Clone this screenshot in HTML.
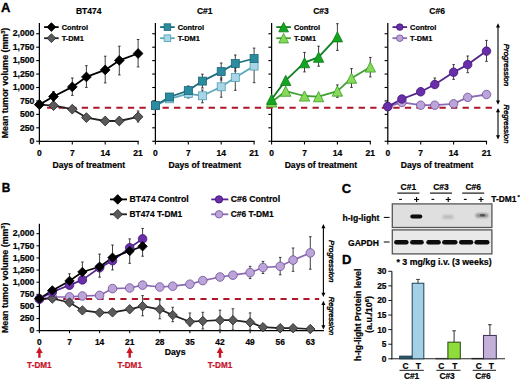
<!DOCTYPE html>
<html><head><meta charset="utf-8"><style>
html,body{margin:0;padding:0;background:#fff;width:520px;height:381px;overflow:hidden;position:relative}
text{font-family:"Liberation Sans", sans-serif}
</style></head><body>
<svg width="520" height="381" viewBox="0 0 520 381" style="position:absolute;left:0;top:0">
<g font-family='"Liberation Sans", sans-serif'>
<text x="0.90" y="11.70" font-size="13" text-anchor="start" font-weight="bold" fill="#000" stroke="#000" stroke-width="0.35"  style="">A</text>
<text x="1.70" y="192.20" font-size="13" text-anchor="start" font-weight="bold" fill="#000" stroke="#000" stroke-width="0.35" textLength="8.6" lengthAdjust="spacingAndGlyphs"  style="">B</text>
<text x="341.70" y="193.00" font-size="13" text-anchor="start" font-weight="bold" fill="#000" stroke="#000" stroke-width="0.35"  style="">C</text>
<text x="341.90" y="264.30" font-size="13" text-anchor="start" font-weight="bold" fill="#000" stroke="#000" stroke-width="0.35"  style="">D</text>
<text x="88.75" y="14.40" font-size="8.5" text-anchor="middle" font-weight="bold" fill="#000" stroke="#000" stroke-width="0.2"  style="">BT474</text>
<line x1="39.40" y1="23.00" x2="39.40" y2="141.85" stroke="#000" stroke-width="1.25" />
<line x1="38.80" y1="141.25" x2="138.70" y2="141.25" stroke="#000" stroke-width="1.25" />
<line x1="36.20" y1="141.25" x2="39.40" y2="141.25" stroke="#000" stroke-width="1.1" />
<line x1="36.20" y1="127.81" x2="39.40" y2="127.81" stroke="#000" stroke-width="1.1" />
<line x1="36.20" y1="114.38" x2="39.40" y2="114.38" stroke="#000" stroke-width="1.1" />
<line x1="36.20" y1="100.94" x2="39.40" y2="100.94" stroke="#000" stroke-width="1.1" />
<line x1="36.20" y1="87.50" x2="39.40" y2="87.50" stroke="#000" stroke-width="1.1" />
<line x1="36.20" y1="74.06" x2="39.40" y2="74.06" stroke="#000" stroke-width="1.1" />
<line x1="36.20" y1="60.62" x2="39.40" y2="60.62" stroke="#000" stroke-width="1.1" />
<line x1="36.20" y1="47.19" x2="39.40" y2="47.19" stroke="#000" stroke-width="1.1" />
<line x1="36.20" y1="33.75" x2="39.40" y2="33.75" stroke="#000" stroke-width="1.1" />
<line x1="39.40" y1="141.25" x2="39.40" y2="144.45" stroke="#000" stroke-width="1.1" />
<text x="39.40" y="155.60" font-size="8.5" text-anchor="middle" font-weight="bold" fill="#000" stroke="#000" stroke-width="0.2"  style="">0</text>
<line x1="72.30" y1="141.25" x2="72.30" y2="144.45" stroke="#000" stroke-width="1.1" />
<text x="72.30" y="155.60" font-size="8.5" text-anchor="middle" font-weight="bold" fill="#000" stroke="#000" stroke-width="0.2"  style="">7</text>
<line x1="105.20" y1="141.25" x2="105.20" y2="144.45" stroke="#000" stroke-width="1.1" />
<text x="105.20" y="155.60" font-size="8.5" text-anchor="middle" font-weight="bold" fill="#000" stroke="#000" stroke-width="0.2"  style="">14</text>
<line x1="138.10" y1="141.25" x2="138.10" y2="144.45" stroke="#000" stroke-width="1.1" />
<text x="138.10" y="155.60" font-size="8.5" text-anchor="middle" font-weight="bold" fill="#000" stroke="#000" stroke-width="0.2"  style="">21</text>
<text x="88.75" y="167.60" font-size="8.6" text-anchor="middle" font-weight="bold" fill="#000" stroke="#000" stroke-width="0.2"  style="">Days of treatment</text>
<text x="204.75" y="14.40" font-size="8.5" text-anchor="middle" font-weight="bold" fill="#000" stroke="#000" stroke-width="0.2"  style="">C#1</text>
<line x1="155.40" y1="23.00" x2="155.40" y2="141.85" stroke="#000" stroke-width="1.25" />
<line x1="154.80" y1="141.25" x2="254.70" y2="141.25" stroke="#000" stroke-width="1.25" />
<line x1="152.20" y1="141.25" x2="155.40" y2="141.25" stroke="#000" stroke-width="1.1" />
<line x1="152.20" y1="127.81" x2="155.40" y2="127.81" stroke="#000" stroke-width="1.1" />
<line x1="152.20" y1="114.38" x2="155.40" y2="114.38" stroke="#000" stroke-width="1.1" />
<line x1="152.20" y1="100.94" x2="155.40" y2="100.94" stroke="#000" stroke-width="1.1" />
<line x1="152.20" y1="87.50" x2="155.40" y2="87.50" stroke="#000" stroke-width="1.1" />
<line x1="152.20" y1="74.06" x2="155.40" y2="74.06" stroke="#000" stroke-width="1.1" />
<line x1="152.20" y1="60.62" x2="155.40" y2="60.62" stroke="#000" stroke-width="1.1" />
<line x1="152.20" y1="47.19" x2="155.40" y2="47.19" stroke="#000" stroke-width="1.1" />
<line x1="152.20" y1="33.75" x2="155.40" y2="33.75" stroke="#000" stroke-width="1.1" />
<line x1="155.40" y1="141.25" x2="155.40" y2="144.45" stroke="#000" stroke-width="1.1" />
<text x="155.40" y="155.60" font-size="8.5" text-anchor="middle" font-weight="bold" fill="#000" stroke="#000" stroke-width="0.2"  style="">0</text>
<line x1="188.30" y1="141.25" x2="188.30" y2="144.45" stroke="#000" stroke-width="1.1" />
<text x="188.30" y="155.60" font-size="8.5" text-anchor="middle" font-weight="bold" fill="#000" stroke="#000" stroke-width="0.2"  style="">7</text>
<line x1="221.20" y1="141.25" x2="221.20" y2="144.45" stroke="#000" stroke-width="1.1" />
<text x="221.20" y="155.60" font-size="8.5" text-anchor="middle" font-weight="bold" fill="#000" stroke="#000" stroke-width="0.2"  style="">14</text>
<line x1="254.10" y1="141.25" x2="254.10" y2="144.45" stroke="#000" stroke-width="1.1" />
<text x="254.10" y="155.60" font-size="8.5" text-anchor="middle" font-weight="bold" fill="#000" stroke="#000" stroke-width="0.2"  style="">21</text>
<text x="204.75" y="167.60" font-size="8.6" text-anchor="middle" font-weight="bold" fill="#000" stroke="#000" stroke-width="0.2"  style="">Days of treatment</text>
<text x="320.95" y="14.40" font-size="8.5" text-anchor="middle" font-weight="bold" fill="#000" stroke="#000" stroke-width="0.2"  style="">C#3</text>
<line x1="271.60" y1="23.00" x2="271.60" y2="141.85" stroke="#000" stroke-width="1.25" />
<line x1="271.00" y1="141.25" x2="370.90" y2="141.25" stroke="#000" stroke-width="1.25" />
<line x1="268.40" y1="141.25" x2="271.60" y2="141.25" stroke="#000" stroke-width="1.1" />
<line x1="268.40" y1="127.81" x2="271.60" y2="127.81" stroke="#000" stroke-width="1.1" />
<line x1="268.40" y1="114.38" x2="271.60" y2="114.38" stroke="#000" stroke-width="1.1" />
<line x1="268.40" y1="100.94" x2="271.60" y2="100.94" stroke="#000" stroke-width="1.1" />
<line x1="268.40" y1="87.50" x2="271.60" y2="87.50" stroke="#000" stroke-width="1.1" />
<line x1="268.40" y1="74.06" x2="271.60" y2="74.06" stroke="#000" stroke-width="1.1" />
<line x1="268.40" y1="60.62" x2="271.60" y2="60.62" stroke="#000" stroke-width="1.1" />
<line x1="268.40" y1="47.19" x2="271.60" y2="47.19" stroke="#000" stroke-width="1.1" />
<line x1="268.40" y1="33.75" x2="271.60" y2="33.75" stroke="#000" stroke-width="1.1" />
<line x1="271.60" y1="141.25" x2="271.60" y2="144.45" stroke="#000" stroke-width="1.1" />
<text x="271.60" y="155.60" font-size="8.5" text-anchor="middle" font-weight="bold" fill="#000" stroke="#000" stroke-width="0.2"  style="">0</text>
<line x1="304.50" y1="141.25" x2="304.50" y2="144.45" stroke="#000" stroke-width="1.1" />
<text x="304.50" y="155.60" font-size="8.5" text-anchor="middle" font-weight="bold" fill="#000" stroke="#000" stroke-width="0.2"  style="">7</text>
<line x1="337.40" y1="141.25" x2="337.40" y2="144.45" stroke="#000" stroke-width="1.1" />
<text x="337.40" y="155.60" font-size="8.5" text-anchor="middle" font-weight="bold" fill="#000" stroke="#000" stroke-width="0.2"  style="">14</text>
<line x1="370.30" y1="141.25" x2="370.30" y2="144.45" stroke="#000" stroke-width="1.1" />
<text x="370.30" y="155.60" font-size="8.5" text-anchor="middle" font-weight="bold" fill="#000" stroke="#000" stroke-width="0.2"  style="">21</text>
<text x="320.95" y="167.60" font-size="8.6" text-anchor="middle" font-weight="bold" fill="#000" stroke="#000" stroke-width="0.2"  style="">Days of treatment</text>
<text x="437.15" y="14.40" font-size="8.5" text-anchor="middle" font-weight="bold" fill="#000" stroke="#000" stroke-width="0.2"  style="">C#6</text>
<line x1="387.80" y1="23.00" x2="387.80" y2="141.85" stroke="#000" stroke-width="1.25" />
<line x1="387.20" y1="141.25" x2="487.10" y2="141.25" stroke="#000" stroke-width="1.25" />
<line x1="384.60" y1="141.25" x2="387.80" y2="141.25" stroke="#000" stroke-width="1.1" />
<line x1="384.60" y1="127.81" x2="387.80" y2="127.81" stroke="#000" stroke-width="1.1" />
<line x1="384.60" y1="114.38" x2="387.80" y2="114.38" stroke="#000" stroke-width="1.1" />
<line x1="384.60" y1="100.94" x2="387.80" y2="100.94" stroke="#000" stroke-width="1.1" />
<line x1="384.60" y1="87.50" x2="387.80" y2="87.50" stroke="#000" stroke-width="1.1" />
<line x1="384.60" y1="74.06" x2="387.80" y2="74.06" stroke="#000" stroke-width="1.1" />
<line x1="384.60" y1="60.62" x2="387.80" y2="60.62" stroke="#000" stroke-width="1.1" />
<line x1="384.60" y1="47.19" x2="387.80" y2="47.19" stroke="#000" stroke-width="1.1" />
<line x1="384.60" y1="33.75" x2="387.80" y2="33.75" stroke="#000" stroke-width="1.1" />
<line x1="387.80" y1="141.25" x2="387.80" y2="144.45" stroke="#000" stroke-width="1.1" />
<text x="387.80" y="155.60" font-size="8.5" text-anchor="middle" font-weight="bold" fill="#000" stroke="#000" stroke-width="0.2"  style="">0</text>
<line x1="420.70" y1="141.25" x2="420.70" y2="144.45" stroke="#000" stroke-width="1.1" />
<text x="420.70" y="155.60" font-size="8.5" text-anchor="middle" font-weight="bold" fill="#000" stroke="#000" stroke-width="0.2"  style="">7</text>
<line x1="453.60" y1="141.25" x2="453.60" y2="144.45" stroke="#000" stroke-width="1.1" />
<text x="453.60" y="155.60" font-size="8.5" text-anchor="middle" font-weight="bold" fill="#000" stroke="#000" stroke-width="0.2"  style="">14</text>
<line x1="486.50" y1="141.25" x2="486.50" y2="144.45" stroke="#000" stroke-width="1.1" />
<text x="486.50" y="155.60" font-size="8.5" text-anchor="middle" font-weight="bold" fill="#000" stroke="#000" stroke-width="0.2"  style="">21</text>
<text x="437.15" y="167.60" font-size="8.6" text-anchor="middle" font-weight="bold" fill="#000" stroke="#000" stroke-width="0.2"  style="">Days of treatment</text>
<text x="34.40" y="143.95" font-size="8.7" text-anchor="end" font-weight="bold" fill="#000" stroke="#000" stroke-width="0.2"  style="">0</text>
<text x="34.40" y="130.51" font-size="8.7" text-anchor="end" font-weight="bold" fill="#000" stroke="#000" stroke-width="0.2"  style="">250</text>
<text x="34.40" y="117.08" font-size="8.7" text-anchor="end" font-weight="bold" fill="#000" stroke="#000" stroke-width="0.2"  style="">500</text>
<text x="34.40" y="103.64" font-size="8.7" text-anchor="end" font-weight="bold" fill="#000" stroke="#000" stroke-width="0.2"  style="">750</text>
<text x="34.40" y="90.20" font-size="8.7" text-anchor="end" font-weight="bold" fill="#000" stroke="#000" stroke-width="0.2"  style="">1,000</text>
<text x="34.40" y="76.76" font-size="8.7" text-anchor="end" font-weight="bold" fill="#000" stroke="#000" stroke-width="0.2"  style="">1,250</text>
<text x="34.40" y="63.33" font-size="8.7" text-anchor="end" font-weight="bold" fill="#000" stroke="#000" stroke-width="0.2"  style="">1,500</text>
<text x="34.40" y="49.89" font-size="8.7" text-anchor="end" font-weight="bold" fill="#000" stroke="#000" stroke-width="0.2"  style="">1,750</text>
<text x="34.40" y="36.45" font-size="8.7" text-anchor="end" font-weight="bold" fill="#000" stroke="#000" stroke-width="0.2"  style="">2,000</text>
<text transform="translate(7.9,83.0) rotate(-90)" x="0" y="0" font-size="8.6" font-weight="bold" text-anchor="middle" stroke="#000" stroke-width="0.2" textLength="110.6" lengthAdjust="spacingAndGlyphs">Mean tumor volume (mm<tspan font-size="5.5" dy="-3">3</tspan><tspan dy="3">)</tspan></text>
<line x1="47.10" y1="107.80" x2="491.90" y2="107.80" stroke="#b0162a" stroke-width="2.0" stroke-dasharray="6.3 5.24"/>
<polyline points="39.40,104.60 53.50,105.60 72.30,109.20 86.40,117.60 105.20,121.00 119.30,121.00 138.10,116.80" fill="none" stroke="#222" stroke-width="1.8" stroke-linejoin="round"/>
<polyline points="39.40,104.60 53.50,96.50 72.30,86.90 86.40,76.90 105.20,69.90 119.30,60.40 138.10,53.50" fill="none" stroke="#000" stroke-width="1.8" stroke-linejoin="round"/>
<line x1="138.10" y1="111.00" x2="138.10" y2="122.00" stroke="#2a2a2a" stroke-width="0.9" />
<line x1="136.80" y1="111.00" x2="139.40" y2="111.00" stroke="#2a2a2a" stroke-width="0.9" />
<line x1="136.80" y1="122.00" x2="139.40" y2="122.00" stroke="#2a2a2a" stroke-width="0.9" />
<line x1="53.50" y1="91.50" x2="53.50" y2="100.50" stroke="#2a2a2a" stroke-width="0.9" />
<line x1="52.20" y1="91.50" x2="54.80" y2="91.50" stroke="#2a2a2a" stroke-width="0.9" />
<line x1="52.20" y1="100.50" x2="54.80" y2="100.50" stroke="#2a2a2a" stroke-width="0.9" />
<line x1="72.30" y1="78.00" x2="72.30" y2="95.40" stroke="#2a2a2a" stroke-width="0.9" />
<line x1="71.00" y1="78.00" x2="73.60" y2="78.00" stroke="#2a2a2a" stroke-width="0.9" />
<line x1="71.00" y1="95.40" x2="73.60" y2="95.40" stroke="#2a2a2a" stroke-width="0.9" />
<line x1="86.40" y1="65.70" x2="86.40" y2="87.40" stroke="#2a2a2a" stroke-width="0.9" />
<line x1="85.10" y1="65.70" x2="87.70" y2="65.70" stroke="#2a2a2a" stroke-width="0.9" />
<line x1="85.10" y1="87.40" x2="87.70" y2="87.40" stroke="#2a2a2a" stroke-width="0.9" />
<line x1="105.20" y1="56.20" x2="105.20" y2="82.90" stroke="#2a2a2a" stroke-width="0.9" />
<line x1="103.90" y1="56.20" x2="106.50" y2="56.20" stroke="#2a2a2a" stroke-width="0.9" />
<line x1="103.90" y1="82.90" x2="106.50" y2="82.90" stroke="#2a2a2a" stroke-width="0.9" />
<line x1="119.30" y1="46.20" x2="119.30" y2="74.90" stroke="#2a2a2a" stroke-width="0.9" />
<line x1="118.00" y1="46.20" x2="120.60" y2="46.20" stroke="#2a2a2a" stroke-width="0.9" />
<line x1="118.00" y1="74.90" x2="120.60" y2="74.90" stroke="#2a2a2a" stroke-width="0.9" />
<line x1="138.10" y1="39.50" x2="138.10" y2="66.90" stroke="#2a2a2a" stroke-width="0.9" />
<line x1="136.80" y1="39.50" x2="139.40" y2="39.50" stroke="#2a2a2a" stroke-width="0.9" />
<line x1="136.80" y1="66.90" x2="139.40" y2="66.90" stroke="#2a2a2a" stroke-width="0.9" />
<path d="M39.40,99.70L44.30,104.60L39.40,109.50L34.50,104.60Z" fill="#5a5a5a" stroke="#222" stroke-width="0.8"/>
<path d="M53.50,100.70L58.40,105.60L53.50,110.50L48.60,105.60Z" fill="#5a5a5a" stroke="#222" stroke-width="0.8"/>
<path d="M72.30,104.30L77.20,109.20L72.30,114.10L67.40,109.20Z" fill="#5a5a5a" stroke="#222" stroke-width="0.8"/>
<path d="M86.40,112.70L91.30,117.60L86.40,122.50L81.50,117.60Z" fill="#5a5a5a" stroke="#222" stroke-width="0.8"/>
<path d="M105.20,116.10L110.10,121.00L105.20,125.90L100.30,121.00Z" fill="#5a5a5a" stroke="#222" stroke-width="0.8"/>
<path d="M119.30,116.10L124.20,121.00L119.30,125.90L114.40,121.00Z" fill="#5a5a5a" stroke="#222" stroke-width="0.8"/>
<path d="M138.10,111.90L143.00,116.80L138.10,121.70L133.20,116.80Z" fill="#5a5a5a" stroke="#222" stroke-width="0.8"/>
<path d="M39.40,99.70L44.30,104.60L39.40,109.50L34.50,104.60Z" fill="#000" stroke="#000" stroke-width="0.8"/>
<path d="M53.50,91.60L58.40,96.50L53.50,101.40L48.60,96.50Z" fill="#000" stroke="#000" stroke-width="0.8"/>
<path d="M72.30,82.00L77.20,86.90L72.30,91.80L67.40,86.90Z" fill="#000" stroke="#000" stroke-width="0.8"/>
<path d="M86.40,72.00L91.30,76.90L86.40,81.80L81.50,76.90Z" fill="#000" stroke="#000" stroke-width="0.8"/>
<path d="M105.20,65.00L110.10,69.90L105.20,74.80L100.30,69.90Z" fill="#000" stroke="#000" stroke-width="0.8"/>
<path d="M119.30,55.50L124.20,60.40L119.30,65.30L114.40,60.40Z" fill="#000" stroke="#000" stroke-width="0.8"/>
<path d="M138.10,48.60L143.00,53.50L138.10,58.40L133.20,53.50Z" fill="#000" stroke="#000" stroke-width="0.8"/>
<line x1="44.10" y1="27.10" x2="58.70" y2="27.10" stroke="#000" stroke-width="1.8" />
<path d="M51.40,22.70L55.80,27.10L51.40,31.50L47.00,27.10Z" fill="#000" stroke="#000" stroke-width="0.8"/>
<text x="61.70" y="30.00" font-size="7.4" text-anchor="start" font-weight="bold" fill="#000" stroke="#000" stroke-width="0.2"  style="">Control</text>
<line x1="44.10" y1="38.20" x2="58.70" y2="38.20" stroke="#222" stroke-width="1.8" />
<path d="M51.40,33.80L55.80,38.20L51.40,42.60L47.00,38.20Z" fill="#5a5a5a" stroke="#222" stroke-width="0.8"/>
<text x="61.70" y="41.10" font-size="7.4" text-anchor="start" font-weight="bold" fill="#000" stroke="#000" stroke-width="0.2"  style="">T-DM1</text>
<polyline points="155.40,105.60 169.50,98.80 188.30,93.60 202.40,95.80 221.20,86.80 235.30,77.60 254.10,66.10" fill="none" stroke="#5aa8ba" stroke-width="1.8" stroke-linejoin="round"/>
<polyline points="155.40,105.60 169.50,97.00 188.30,90.60 202.40,81.10 221.20,71.60 235.30,63.50 254.10,58.50" fill="none" stroke="#1f6e7e" stroke-width="1.8" stroke-linejoin="round"/>
<line x1="188.30" y1="90.00" x2="188.30" y2="98.00" stroke="#2a2a2a" stroke-width="0.9" />
<line x1="187.00" y1="90.00" x2="189.60" y2="90.00" stroke="#2a2a2a" stroke-width="0.9" />
<line x1="187.00" y1="98.00" x2="189.60" y2="98.00" stroke="#2a2a2a" stroke-width="0.9" />
<line x1="202.40" y1="90.00" x2="202.40" y2="102.80" stroke="#2a2a2a" stroke-width="0.9" />
<line x1="201.10" y1="90.00" x2="203.70" y2="90.00" stroke="#2a2a2a" stroke-width="0.9" />
<line x1="201.10" y1="102.80" x2="203.70" y2="102.80" stroke="#2a2a2a" stroke-width="0.9" />
<line x1="221.20" y1="78.00" x2="221.20" y2="97.20" stroke="#2a2a2a" stroke-width="0.9" />
<line x1="219.90" y1="78.00" x2="222.50" y2="78.00" stroke="#2a2a2a" stroke-width="0.9" />
<line x1="219.90" y1="97.20" x2="222.50" y2="97.20" stroke="#2a2a2a" stroke-width="0.9" />
<line x1="235.30" y1="68.00" x2="235.30" y2="90.30" stroke="#2a2a2a" stroke-width="0.9" />
<line x1="234.00" y1="68.00" x2="236.60" y2="68.00" stroke="#2a2a2a" stroke-width="0.9" />
<line x1="234.00" y1="90.30" x2="236.60" y2="90.30" stroke="#2a2a2a" stroke-width="0.9" />
<line x1="254.10" y1="56.00" x2="254.10" y2="82.70" stroke="#2a2a2a" stroke-width="0.9" />
<line x1="252.80" y1="56.00" x2="255.40" y2="56.00" stroke="#2a2a2a" stroke-width="0.9" />
<line x1="252.80" y1="82.70" x2="255.40" y2="82.70" stroke="#2a2a2a" stroke-width="0.9" />
<line x1="188.30" y1="86.00" x2="188.30" y2="95.00" stroke="#2a2a2a" stroke-width="0.9" />
<line x1="187.00" y1="86.00" x2="189.60" y2="86.00" stroke="#2a2a2a" stroke-width="0.9" />
<line x1="187.00" y1="95.00" x2="189.60" y2="95.00" stroke="#2a2a2a" stroke-width="0.9" />
<line x1="202.40" y1="74.20" x2="202.40" y2="88.00" stroke="#2a2a2a" stroke-width="0.9" />
<line x1="201.10" y1="74.20" x2="203.70" y2="74.20" stroke="#2a2a2a" stroke-width="0.9" />
<line x1="201.10" y1="88.00" x2="203.70" y2="88.00" stroke="#2a2a2a" stroke-width="0.9" />
<line x1="221.20" y1="63.00" x2="221.20" y2="80.00" stroke="#2a2a2a" stroke-width="0.9" />
<line x1="219.90" y1="63.00" x2="222.50" y2="63.00" stroke="#2a2a2a" stroke-width="0.9" />
<line x1="219.90" y1="80.00" x2="222.50" y2="80.00" stroke="#2a2a2a" stroke-width="0.9" />
<line x1="235.30" y1="55.00" x2="235.30" y2="71.00" stroke="#2a2a2a" stroke-width="0.9" />
<line x1="234.00" y1="55.00" x2="236.60" y2="55.00" stroke="#2a2a2a" stroke-width="0.9" />
<line x1="234.00" y1="71.00" x2="236.60" y2="71.00" stroke="#2a2a2a" stroke-width="0.9" />
<line x1="254.10" y1="48.10" x2="254.10" y2="68.00" stroke="#2a2a2a" stroke-width="0.9" />
<line x1="252.80" y1="48.10" x2="255.40" y2="48.10" stroke="#2a2a2a" stroke-width="0.9" />
<line x1="252.80" y1="68.00" x2="255.40" y2="68.00" stroke="#2a2a2a" stroke-width="0.9" />
<rect x="151.41" y="101.60" width="7.99" height="7.99" fill="#a9d6e6" stroke="#4f9fb2" stroke-width="0.8"/>
<rect x="165.50" y="94.80" width="7.99" height="7.99" fill="#a9d6e6" stroke="#4f9fb2" stroke-width="0.8"/>
<rect x="184.31" y="89.60" width="7.99" height="7.99" fill="#a9d6e6" stroke="#4f9fb2" stroke-width="0.8"/>
<rect x="198.41" y="91.80" width="7.99" height="7.99" fill="#a9d6e6" stroke="#4f9fb2" stroke-width="0.8"/>
<rect x="217.20" y="82.80" width="7.99" height="7.99" fill="#a9d6e6" stroke="#4f9fb2" stroke-width="0.8"/>
<rect x="231.31" y="73.60" width="7.99" height="7.99" fill="#a9d6e6" stroke="#4f9fb2" stroke-width="0.8"/>
<rect x="250.11" y="62.10" width="7.99" height="7.99" fill="#a9d6e6" stroke="#4f9fb2" stroke-width="0.8"/>
<rect x="151.41" y="101.60" width="7.99" height="7.99" fill="#2a8c9e" stroke="#1d6878" stroke-width="0.8"/>
<rect x="165.50" y="93.00" width="7.99" height="7.99" fill="#2a8c9e" stroke="#1d6878" stroke-width="0.8"/>
<rect x="184.31" y="86.60" width="7.99" height="7.99" fill="#2a8c9e" stroke="#1d6878" stroke-width="0.8"/>
<rect x="198.41" y="77.10" width="7.99" height="7.99" fill="#2a8c9e" stroke="#1d6878" stroke-width="0.8"/>
<rect x="217.20" y="67.60" width="7.99" height="7.99" fill="#2a8c9e" stroke="#1d6878" stroke-width="0.8"/>
<rect x="231.31" y="59.51" width="7.99" height="7.99" fill="#2a8c9e" stroke="#1d6878" stroke-width="0.8"/>
<rect x="250.11" y="54.51" width="7.99" height="7.99" fill="#2a8c9e" stroke="#1d6878" stroke-width="0.8"/>
<line x1="160.10" y1="27.10" x2="174.70" y2="27.10" stroke="#1f6e7e" stroke-width="1.8" />
<rect x="164.09" y="23.79" width="6.63" height="6.63" fill="#2a8c9e" stroke="#1d6878" stroke-width="0.8"/>
<text x="177.70" y="30.00" font-size="7.4" text-anchor="start" font-weight="bold" fill="#000" stroke="#000" stroke-width="0.2"  style="">Control</text>
<line x1="160.10" y1="38.20" x2="174.70" y2="38.20" stroke="#5aa8ba" stroke-width="1.8" />
<rect x="164.09" y="34.89" width="6.63" height="6.63" fill="#a9d6e6" stroke="#4f9fb2" stroke-width="0.8"/>
<text x="177.70" y="41.10" font-size="7.4" text-anchor="start" font-weight="bold" fill="#000" stroke="#000" stroke-width="0.2"  style="">T-DM1</text>
<polyline points="271.60,102.00 285.70,91.20 304.50,96.00 318.60,96.70 337.40,91.10 351.50,78.20 370.30,67.00" fill="none" stroke="#3fa032" stroke-width="1.8" stroke-linejoin="round"/>
<polyline points="271.60,99.30 285.70,80.40 304.50,62.70 318.60,57.20 337.40,36.80" fill="none" stroke="#0d7f1e" stroke-width="1.8" stroke-linejoin="round"/>
<line x1="337.40" y1="84.90" x2="337.40" y2="97.30" stroke="#2a2a2a" stroke-width="0.9" />
<line x1="336.10" y1="84.90" x2="338.70" y2="84.90" stroke="#2a2a2a" stroke-width="0.9" />
<line x1="336.10" y1="97.30" x2="338.70" y2="97.30" stroke="#2a2a2a" stroke-width="0.9" />
<line x1="351.50" y1="68.60" x2="351.50" y2="87.40" stroke="#2a2a2a" stroke-width="0.9" />
<line x1="350.20" y1="68.60" x2="352.80" y2="68.60" stroke="#2a2a2a" stroke-width="0.9" />
<line x1="350.20" y1="87.40" x2="352.80" y2="87.40" stroke="#2a2a2a" stroke-width="0.9" />
<line x1="370.30" y1="57.40" x2="370.30" y2="76.90" stroke="#2a2a2a" stroke-width="0.9" />
<line x1="369.00" y1="57.40" x2="371.60" y2="57.40" stroke="#2a2a2a" stroke-width="0.9" />
<line x1="369.00" y1="76.90" x2="371.60" y2="76.90" stroke="#2a2a2a" stroke-width="0.9" />
<line x1="304.50" y1="52.40" x2="304.50" y2="71.90" stroke="#2a2a2a" stroke-width="0.9" />
<line x1="303.20" y1="52.40" x2="305.80" y2="52.40" stroke="#2a2a2a" stroke-width="0.9" />
<line x1="303.20" y1="71.90" x2="305.80" y2="71.90" stroke="#2a2a2a" stroke-width="0.9" />
<line x1="318.60" y1="46.20" x2="318.60" y2="66.20" stroke="#2a2a2a" stroke-width="0.9" />
<line x1="317.30" y1="46.20" x2="319.90" y2="46.20" stroke="#2a2a2a" stroke-width="0.9" />
<line x1="317.30" y1="66.20" x2="319.90" y2="66.20" stroke="#2a2a2a" stroke-width="0.9" />
<line x1="337.40" y1="23.70" x2="337.40" y2="50.40" stroke="#2a2a2a" stroke-width="0.9" />
<line x1="336.10" y1="23.70" x2="338.70" y2="23.70" stroke="#2a2a2a" stroke-width="0.9" />
<line x1="336.10" y1="50.40" x2="338.70" y2="50.40" stroke="#2a2a2a" stroke-width="0.9" />
<path d="M271.60,96.92L276.77,107.08L266.43,107.08Z" fill="#86da58" stroke="#3a9a2a" stroke-width="0.8" stroke-linejoin="miter"/>
<path d="M285.70,86.12L290.87,96.28L280.53,96.28Z" fill="#86da58" stroke="#3a9a2a" stroke-width="0.8" stroke-linejoin="miter"/>
<path d="M304.50,90.92L309.67,101.08L299.33,101.08Z" fill="#86da58" stroke="#3a9a2a" stroke-width="0.8" stroke-linejoin="miter"/>
<path d="M318.60,91.62L323.77,101.78L313.43,101.78Z" fill="#86da58" stroke="#3a9a2a" stroke-width="0.8" stroke-linejoin="miter"/>
<path d="M337.40,86.02L342.57,96.18L332.23,96.18Z" fill="#86da58" stroke="#3a9a2a" stroke-width="0.8" stroke-linejoin="miter"/>
<path d="M351.50,73.12L356.67,83.28L346.33,83.28Z" fill="#86da58" stroke="#3a9a2a" stroke-width="0.8" stroke-linejoin="miter"/>
<path d="M370.30,61.92L375.47,72.08L365.13,72.08Z" fill="#86da58" stroke="#3a9a2a" stroke-width="0.8" stroke-linejoin="miter"/>
<path d="M271.60,94.22L276.77,104.38L266.43,104.38Z" fill="#13a520" stroke="#0b7a18" stroke-width="0.8" stroke-linejoin="miter"/>
<path d="M285.70,75.32L290.87,85.48L280.53,85.48Z" fill="#13a520" stroke="#0b7a18" stroke-width="0.8" stroke-linejoin="miter"/>
<path d="M304.50,57.62L309.67,67.78L299.33,67.78Z" fill="#13a520" stroke="#0b7a18" stroke-width="0.8" stroke-linejoin="miter"/>
<path d="M318.60,52.12L323.77,62.28L313.43,62.28Z" fill="#13a520" stroke="#0b7a18" stroke-width="0.8" stroke-linejoin="miter"/>
<path d="M337.40,31.72L342.57,41.88L332.23,41.88Z" fill="#13a520" stroke="#0b7a18" stroke-width="0.8" stroke-linejoin="miter"/>
<line x1="276.30" y1="27.10" x2="290.90" y2="27.10" stroke="#0d7f1e" stroke-width="1.8" />
<path d="M283.60,22.35L288.44,31.85L278.76,31.85Z" fill="#13a520" stroke="#0b7a18" stroke-width="0.8" stroke-linejoin="miter"/>
<text x="293.90" y="30.00" font-size="7.4" text-anchor="start" font-weight="bold" fill="#000" stroke="#000" stroke-width="0.2"  style="">Control</text>
<line x1="276.30" y1="38.20" x2="290.90" y2="38.20" stroke="#3fa032" stroke-width="1.8" />
<path d="M283.60,33.45L288.44,42.95L278.76,42.95Z" fill="#86da58" stroke="#3a9a2a" stroke-width="0.8" stroke-linejoin="miter"/>
<text x="293.90" y="41.10" font-size="7.4" text-anchor="start" font-weight="bold" fill="#000" stroke="#000" stroke-width="0.2"  style="">T-DM1</text>
<polyline points="387.80,106.60 401.90,102.40 420.70,105.20 434.80,105.20 453.60,103.80 467.70,97.40 486.50,94.50" fill="none" stroke="#8a6ab4" stroke-width="1.8" stroke-linejoin="round"/>
<polyline points="387.80,106.60 401.90,99.00 420.70,91.80 434.80,84.50 453.60,72.20 467.70,64.60 486.50,51.10" fill="none" stroke="#55248c" stroke-width="1.8" stroke-linejoin="round"/>
<line x1="420.70" y1="88.00" x2="420.70" y2="95.00" stroke="#2a2a2a" stroke-width="0.9" />
<line x1="419.40" y1="88.00" x2="422.00" y2="88.00" stroke="#2a2a2a" stroke-width="0.9" />
<line x1="419.40" y1="95.00" x2="422.00" y2="95.00" stroke="#2a2a2a" stroke-width="0.9" />
<line x1="434.80" y1="78.00" x2="434.80" y2="87.50" stroke="#2a2a2a" stroke-width="0.9" />
<line x1="433.50" y1="78.00" x2="436.10" y2="78.00" stroke="#2a2a2a" stroke-width="0.9" />
<line x1="433.50" y1="87.50" x2="436.10" y2="87.50" stroke="#2a2a2a" stroke-width="0.9" />
<line x1="453.60" y1="64.60" x2="453.60" y2="79.40" stroke="#2a2a2a" stroke-width="0.9" />
<line x1="452.30" y1="64.60" x2="454.90" y2="64.60" stroke="#2a2a2a" stroke-width="0.9" />
<line x1="452.30" y1="79.40" x2="454.90" y2="79.40" stroke="#2a2a2a" stroke-width="0.9" />
<line x1="467.70" y1="56.00" x2="467.70" y2="72.70" stroke="#2a2a2a" stroke-width="0.9" />
<line x1="466.40" y1="56.00" x2="469.00" y2="56.00" stroke="#2a2a2a" stroke-width="0.9" />
<line x1="466.40" y1="72.70" x2="469.00" y2="72.70" stroke="#2a2a2a" stroke-width="0.9" />
<line x1="486.50" y1="40.40" x2="486.50" y2="61.40" stroke="#2a2a2a" stroke-width="0.9" />
<line x1="485.20" y1="40.40" x2="487.80" y2="40.40" stroke="#2a2a2a" stroke-width="0.9" />
<line x1="485.20" y1="61.40" x2="487.80" y2="61.40" stroke="#2a2a2a" stroke-width="0.9" />
<circle cx="387.80" cy="106.60" r="4.25" fill="#bba4d8" stroke="#6e4e98" stroke-width="0.8"/>
<circle cx="401.90" cy="102.40" r="4.25" fill="#bba4d8" stroke="#6e4e98" stroke-width="0.8"/>
<circle cx="420.70" cy="105.20" r="4.25" fill="#bba4d8" stroke="#6e4e98" stroke-width="0.8"/>
<circle cx="434.80" cy="105.20" r="4.25" fill="#bba4d8" stroke="#6e4e98" stroke-width="0.8"/>
<circle cx="453.60" cy="103.80" r="4.25" fill="#bba4d8" stroke="#6e4e98" stroke-width="0.8"/>
<circle cx="467.70" cy="97.40" r="4.25" fill="#bba4d8" stroke="#6e4e98" stroke-width="0.8"/>
<circle cx="486.50" cy="94.50" r="4.25" fill="#bba4d8" stroke="#6e4e98" stroke-width="0.8"/>
<circle cx="387.80" cy="106.60" r="4.25" fill="#6a2eaa" stroke="#3c1874" stroke-width="0.8"/>
<circle cx="401.90" cy="99.00" r="4.25" fill="#6a2eaa" stroke="#3c1874" stroke-width="0.8"/>
<circle cx="420.70" cy="91.80" r="4.25" fill="#6a2eaa" stroke="#3c1874" stroke-width="0.8"/>
<circle cx="434.80" cy="84.50" r="4.25" fill="#6a2eaa" stroke="#3c1874" stroke-width="0.8"/>
<circle cx="453.60" cy="72.20" r="4.25" fill="#6a2eaa" stroke="#3c1874" stroke-width="0.8"/>
<circle cx="467.70" cy="64.60" r="4.25" fill="#6a2eaa" stroke="#3c1874" stroke-width="0.8"/>
<circle cx="486.50" cy="51.10" r="4.25" fill="#6a2eaa" stroke="#3c1874" stroke-width="0.8"/>
<line x1="392.50" y1="27.10" x2="407.10" y2="27.10" stroke="#55248c" stroke-width="1.8" />
<circle cx="399.80" cy="27.10" r="3.30" fill="#6a2eaa" stroke="#3c1874" stroke-width="0.8"/>
<text x="410.10" y="30.00" font-size="7.4" text-anchor="start" font-weight="bold" fill="#000" stroke="#000" stroke-width="0.2"  style="">Control</text>
<line x1="392.50" y1="38.20" x2="407.10" y2="38.20" stroke="#8a6ab4" stroke-width="1.8" />
<circle cx="399.80" cy="38.20" r="3.30" fill="#bba4d8" stroke="#6e4e98" stroke-width="0.8"/>
<text x="410.10" y="41.10" font-size="7.4" text-anchor="start" font-weight="bold" fill="#000" stroke="#000" stroke-width="0.2"  style="">T-DM1</text>
<line x1="498.00" y1="26.20" x2="498.00" y2="101.80" stroke="#000" stroke-width="1.1" />
<path d="M498.00,23.20L500.00,27.40L496.00,27.40Z" fill="#000"/>
<path d="M498.00,104.80L500.00,100.60L496.00,100.60Z" fill="#000"/>
<line x1="498.00" y1="111.00" x2="498.00" y2="136.40" stroke="#000" stroke-width="1.1" />
<path d="M498.00,108.00L500.00,112.20L496.00,112.20Z" fill="#000"/>
<path d="M498.00,139.40L500.00,135.20L496.00,135.20Z" fill="#000"/>
<text transform="translate(504.00,64.90) rotate(90)" font-size="8" font-style="italic" text-anchor="middle" font-weight="normal" stroke="#000" stroke-width="0.4" textLength="42.3" lengthAdjust="spacingAndGlyphs">Progression</text>
<text transform="translate(504.00,124.00) rotate(90)" font-size="8" font-style="italic" text-anchor="middle" font-weight="normal" stroke="#000" stroke-width="0.4" textLength="38.8" lengthAdjust="spacingAndGlyphs">Regression</text>
<line x1="39.40" y1="223.80" x2="39.40" y2="331.30" stroke="#000" stroke-width="1.25" />
<line x1="38.80" y1="330.70" x2="323.90" y2="330.70" stroke="#000" stroke-width="1.25" />
<line x1="36.40" y1="330.70" x2="39.40" y2="330.70" stroke="#000" stroke-width="1" />
<text x="34.40" y="333.40" font-size="8.7" text-anchor="end" font-weight="bold" fill="#000" stroke="#000" stroke-width="0.2"  style="">0</text>
<line x1="36.40" y1="318.57" x2="39.40" y2="318.57" stroke="#000" stroke-width="1" />
<text x="34.40" y="321.27" font-size="8.7" text-anchor="end" font-weight="bold" fill="#000" stroke="#000" stroke-width="0.2"  style="">250</text>
<line x1="36.40" y1="306.45" x2="39.40" y2="306.45" stroke="#000" stroke-width="1" />
<text x="34.40" y="309.15" font-size="8.7" text-anchor="end" font-weight="bold" fill="#000" stroke="#000" stroke-width="0.2"  style="">500</text>
<line x1="36.40" y1="294.32" x2="39.40" y2="294.32" stroke="#000" stroke-width="1" />
<text x="34.40" y="297.02" font-size="8.7" text-anchor="end" font-weight="bold" fill="#000" stroke="#000" stroke-width="0.2"  style="">750</text>
<line x1="36.40" y1="282.20" x2="39.40" y2="282.20" stroke="#000" stroke-width="1" />
<text x="34.40" y="284.90" font-size="8.7" text-anchor="end" font-weight="bold" fill="#000" stroke="#000" stroke-width="0.2"  style="">1,000</text>
<line x1="36.40" y1="270.07" x2="39.40" y2="270.07" stroke="#000" stroke-width="1" />
<text x="34.40" y="272.77" font-size="8.7" text-anchor="end" font-weight="bold" fill="#000" stroke="#000" stroke-width="0.2"  style="">1,250</text>
<line x1="36.40" y1="257.95" x2="39.40" y2="257.95" stroke="#000" stroke-width="1" />
<text x="34.40" y="260.65" font-size="8.7" text-anchor="end" font-weight="bold" fill="#000" stroke="#000" stroke-width="0.2"  style="">1,500</text>
<line x1="36.40" y1="245.82" x2="39.40" y2="245.82" stroke="#000" stroke-width="1" />
<text x="34.40" y="248.52" font-size="8.7" text-anchor="end" font-weight="bold" fill="#000" stroke="#000" stroke-width="0.2"  style="">1,750</text>
<line x1="36.40" y1="233.70" x2="39.40" y2="233.70" stroke="#000" stroke-width="1" />
<text x="34.40" y="236.40" font-size="8.7" text-anchor="end" font-weight="bold" fill="#000" stroke="#000" stroke-width="0.2"  style="">2,000</text>
<line x1="39.40" y1="330.70" x2="39.40" y2="333.20" stroke="#000" stroke-width="1" />
<text x="39.40" y="344.50" font-size="8.4" text-anchor="middle" font-weight="bold" fill="#000" stroke="#000" stroke-width="0.2"  style="">0</text>
<line x1="69.50" y1="330.70" x2="69.50" y2="333.20" stroke="#000" stroke-width="1" />
<text x="69.50" y="344.50" font-size="8.4" text-anchor="middle" font-weight="bold" fill="#000" stroke="#000" stroke-width="0.2"  style="">7</text>
<line x1="99.60" y1="330.70" x2="99.60" y2="333.20" stroke="#000" stroke-width="1" />
<text x="99.60" y="344.50" font-size="8.4" text-anchor="middle" font-weight="bold" fill="#000" stroke="#000" stroke-width="0.2"  style="">14</text>
<line x1="129.70" y1="330.70" x2="129.70" y2="333.20" stroke="#000" stroke-width="1" />
<text x="129.70" y="344.50" font-size="8.4" text-anchor="middle" font-weight="bold" fill="#000" stroke="#000" stroke-width="0.2"  style="">21</text>
<line x1="159.80" y1="330.70" x2="159.80" y2="333.20" stroke="#000" stroke-width="1" />
<text x="159.80" y="344.50" font-size="8.4" text-anchor="middle" font-weight="bold" fill="#000" stroke="#000" stroke-width="0.2"  style="">28</text>
<line x1="189.90" y1="330.70" x2="189.90" y2="333.20" stroke="#000" stroke-width="1" />
<text x="189.90" y="344.50" font-size="8.4" text-anchor="middle" font-weight="bold" fill="#000" stroke="#000" stroke-width="0.2"  style="">35</text>
<line x1="220.00" y1="330.70" x2="220.00" y2="333.20" stroke="#000" stroke-width="1" />
<text x="220.00" y="344.50" font-size="8.4" text-anchor="middle" font-weight="bold" fill="#000" stroke="#000" stroke-width="0.2"  style="">42</text>
<line x1="250.10" y1="330.70" x2="250.10" y2="333.20" stroke="#000" stroke-width="1" />
<text x="250.10" y="344.50" font-size="8.4" text-anchor="middle" font-weight="bold" fill="#000" stroke="#000" stroke-width="0.2"  style="">49</text>
<line x1="280.20" y1="330.70" x2="280.20" y2="333.20" stroke="#000" stroke-width="1" />
<text x="280.20" y="344.50" font-size="8.4" text-anchor="middle" font-weight="bold" fill="#000" stroke="#000" stroke-width="0.2"  style="">56</text>
<line x1="310.30" y1="330.70" x2="310.30" y2="333.20" stroke="#000" stroke-width="1" />
<text x="310.30" y="344.50" font-size="8.4" text-anchor="middle" font-weight="bold" fill="#000" stroke="#000" stroke-width="0.2"  style="">63</text>
<text x="175.10" y="354.80" font-size="8.7" text-anchor="middle" font-weight="bold" fill="#000" stroke="#000" stroke-width="0.2"  style="">Days</text>
<text transform="translate(7.7,277.8) rotate(-90)" x="0" y="0" font-size="8.6" font-weight="bold" text-anchor="middle" stroke="#000" stroke-width="0.2" textLength="110.5" lengthAdjust="spacingAndGlyphs">Mean tumor volume (mm<tspan font-size="5.5" dy="-3">3</tspan><tspan dy="3">)</tspan></text>
<path d="M39.40,347.0L42.70,353.0L40.60,353.0L40.60,357.8L38.20,357.8L38.20,353.0L36.10,353.0Z" fill="#cc1424"/>
<text x="39.40" y="368.00" font-size="8.2" text-anchor="middle" font-weight="bold" fill="#c8142a" stroke="#c8142a" stroke-width="0.2"  style="">T-DM1</text>
<path d="M129.70,347.0L133.00,353.0L130.90,353.0L130.90,357.8L128.50,357.8L128.50,353.0L126.40,353.0Z" fill="#cc1424"/>
<text x="129.70" y="368.00" font-size="8.2" text-anchor="middle" font-weight="bold" fill="#c8142a" stroke="#c8142a" stroke-width="0.2"  style="">T-DM1</text>
<path d="M220.00,347.0L223.30,353.0L221.20,353.0L221.20,357.8L218.80,357.8L218.80,353.0L216.70,353.0Z" fill="#cc1424"/>
<text x="220.00" y="368.00" font-size="8.2" text-anchor="middle" font-weight="bold" fill="#c8142a" stroke="#c8142a" stroke-width="0.2"  style="">T-DM1</text>
<line x1="40.30" y1="298.90" x2="319.20" y2="298.90" stroke="#b0162a" stroke-width="2.0" stroke-dasharray="6.1 5.34"/>
<polyline points="39.40,299.00 52.30,297.00 69.50,296.90 82.40,296.00 99.60,295.40 112.50,288.60 129.70,288.00 142.60,285.10 159.80,287.00 172.70,286.20 189.90,284.20 202.80,280.60 220.00,277.00 232.90,275.20 250.10,272.60 263.00,267.50 280.20,266.30 293.10,260.10 310.30,252.90" fill="none" stroke="#8a6ab4" stroke-width="1.7" stroke-linejoin="round"/>
<polyline points="39.40,299.00 52.30,298.50 69.50,302.50 82.40,310.40 99.60,312.60 112.50,312.40 129.70,309.30 142.60,306.20 159.80,309.30 172.70,315.10 189.90,321.70 202.80,321.00 220.00,320.20 232.90,320.20 250.10,322.30 263.00,327.20 280.20,328.20 293.10,328.20 310.30,329.00" fill="none" stroke="#222" stroke-width="1.7" stroke-linejoin="round"/>
<polyline points="39.40,299.00 52.30,292.00 69.50,285.10 82.40,279.90 99.60,267.80 112.50,260.70 129.70,247.80 142.60,238.90" fill="none" stroke="#55248c" stroke-width="1.7" stroke-linejoin="round"/>
<polyline points="39.40,298.60 52.30,290.40 69.50,280.90 82.40,272.00 99.60,266.70 112.50,257.60 129.70,251.00 142.60,246.30" fill="none" stroke="#000" stroke-width="1.7" stroke-linejoin="round"/>
<line x1="250.10" y1="266.30" x2="250.10" y2="278.60" stroke="#2a2a2a" stroke-width="0.9" />
<line x1="248.80" y1="266.30" x2="251.40" y2="266.30" stroke="#2a2a2a" stroke-width="0.9" />
<line x1="248.80" y1="278.60" x2="251.40" y2="278.60" stroke="#2a2a2a" stroke-width="0.9" />
<line x1="263.00" y1="261.40" x2="263.00" y2="273.50" stroke="#2a2a2a" stroke-width="0.9" />
<line x1="261.70" y1="261.40" x2="264.30" y2="261.40" stroke="#2a2a2a" stroke-width="0.9" />
<line x1="261.70" y1="273.50" x2="264.30" y2="273.50" stroke="#2a2a2a" stroke-width="0.9" />
<line x1="280.20" y1="257.40" x2="280.20" y2="274.80" stroke="#2a2a2a" stroke-width="0.9" />
<line x1="278.90" y1="257.40" x2="281.50" y2="257.40" stroke="#2a2a2a" stroke-width="0.9" />
<line x1="278.90" y1="274.80" x2="281.50" y2="274.80" stroke="#2a2a2a" stroke-width="0.9" />
<line x1="293.10" y1="248.00" x2="293.10" y2="271.30" stroke="#2a2a2a" stroke-width="0.9" />
<line x1="291.80" y1="248.00" x2="294.40" y2="248.00" stroke="#2a2a2a" stroke-width="0.9" />
<line x1="291.80" y1="271.30" x2="294.40" y2="271.30" stroke="#2a2a2a" stroke-width="0.9" />
<line x1="310.30" y1="236.70" x2="310.30" y2="269.20" stroke="#2a2a2a" stroke-width="0.9" />
<line x1="309.00" y1="236.70" x2="311.60" y2="236.70" stroke="#2a2a2a" stroke-width="0.9" />
<line x1="309.00" y1="269.20" x2="311.60" y2="269.20" stroke="#2a2a2a" stroke-width="0.9" />
<line x1="142.60" y1="295.60" x2="142.60" y2="315.80" stroke="#2a2a2a" stroke-width="0.9" />
<line x1="141.30" y1="295.60" x2="143.90" y2="295.60" stroke="#2a2a2a" stroke-width="0.9" />
<line x1="141.30" y1="315.80" x2="143.90" y2="315.80" stroke="#2a2a2a" stroke-width="0.9" />
<line x1="159.80" y1="300.00" x2="159.80" y2="318.80" stroke="#2a2a2a" stroke-width="0.9" />
<line x1="158.50" y1="300.00" x2="161.10" y2="300.00" stroke="#2a2a2a" stroke-width="0.9" />
<line x1="158.50" y1="318.80" x2="161.10" y2="318.80" stroke="#2a2a2a" stroke-width="0.9" />
<line x1="172.70" y1="307.30" x2="172.70" y2="321.70" stroke="#2a2a2a" stroke-width="0.9" />
<line x1="171.40" y1="307.30" x2="174.00" y2="307.30" stroke="#2a2a2a" stroke-width="0.9" />
<line x1="171.40" y1="321.70" x2="174.00" y2="321.70" stroke="#2a2a2a" stroke-width="0.9" />
<line x1="189.90" y1="313.00" x2="189.90" y2="326.00" stroke="#2a2a2a" stroke-width="0.9" />
<line x1="188.60" y1="313.00" x2="191.20" y2="313.00" stroke="#2a2a2a" stroke-width="0.9" />
<line x1="188.60" y1="326.00" x2="191.20" y2="326.00" stroke="#2a2a2a" stroke-width="0.9" />
<line x1="202.80" y1="312.30" x2="202.80" y2="329.00" stroke="#2a2a2a" stroke-width="0.9" />
<line x1="201.50" y1="312.30" x2="204.10" y2="312.30" stroke="#2a2a2a" stroke-width="0.9" />
<line x1="201.50" y1="329.00" x2="204.10" y2="329.00" stroke="#2a2a2a" stroke-width="0.9" />
<line x1="220.00" y1="310.20" x2="220.00" y2="330.00" stroke="#2a2a2a" stroke-width="0.9" />
<line x1="218.70" y1="310.20" x2="221.30" y2="310.20" stroke="#2a2a2a" stroke-width="0.9" />
<line x1="218.70" y1="330.00" x2="221.30" y2="330.00" stroke="#2a2a2a" stroke-width="0.9" />
<line x1="232.90" y1="308.80" x2="232.90" y2="330.00" stroke="#2a2a2a" stroke-width="0.9" />
<line x1="231.60" y1="308.80" x2="234.20" y2="308.80" stroke="#2a2a2a" stroke-width="0.9" />
<line x1="231.60" y1="330.00" x2="234.20" y2="330.00" stroke="#2a2a2a" stroke-width="0.9" />
<line x1="250.10" y1="312.90" x2="250.10" y2="330.00" stroke="#2a2a2a" stroke-width="0.9" />
<line x1="248.80" y1="312.90" x2="251.40" y2="312.90" stroke="#2a2a2a" stroke-width="0.9" />
<line x1="248.80" y1="330.00" x2="251.40" y2="330.00" stroke="#2a2a2a" stroke-width="0.9" />
<line x1="69.50" y1="273.80" x2="69.50" y2="288.80" stroke="#2a2a2a" stroke-width="0.9" />
<line x1="68.20" y1="273.80" x2="70.80" y2="273.80" stroke="#2a2a2a" stroke-width="0.9" />
<line x1="68.20" y1="288.80" x2="70.80" y2="288.80" stroke="#2a2a2a" stroke-width="0.9" />
<line x1="82.40" y1="262.00" x2="82.40" y2="281.70" stroke="#2a2a2a" stroke-width="0.9" />
<line x1="81.10" y1="262.00" x2="83.70" y2="262.00" stroke="#2a2a2a" stroke-width="0.9" />
<line x1="81.10" y1="281.70" x2="83.70" y2="281.70" stroke="#2a2a2a" stroke-width="0.9" />
<line x1="99.60" y1="254.10" x2="99.60" y2="277.20" stroke="#2a2a2a" stroke-width="0.9" />
<line x1="98.30" y1="254.10" x2="100.90" y2="254.10" stroke="#2a2a2a" stroke-width="0.9" />
<line x1="98.30" y1="277.20" x2="100.90" y2="277.20" stroke="#2a2a2a" stroke-width="0.9" />
<line x1="112.50" y1="245.00" x2="112.50" y2="269.90" stroke="#2a2a2a" stroke-width="0.9" />
<line x1="111.20" y1="245.00" x2="113.80" y2="245.00" stroke="#2a2a2a" stroke-width="0.9" />
<line x1="111.20" y1="269.90" x2="113.80" y2="269.90" stroke="#2a2a2a" stroke-width="0.9" />
<line x1="129.70" y1="238.90" x2="129.70" y2="263.30" stroke="#2a2a2a" stroke-width="0.9" />
<line x1="128.40" y1="238.90" x2="131.00" y2="238.90" stroke="#2a2a2a" stroke-width="0.9" />
<line x1="128.40" y1="263.30" x2="131.00" y2="263.30" stroke="#2a2a2a" stroke-width="0.9" />
<line x1="142.60" y1="228.40" x2="142.60" y2="256.20" stroke="#2a2a2a" stroke-width="0.9" />
<line x1="141.30" y1="228.40" x2="143.90" y2="228.40" stroke="#2a2a2a" stroke-width="0.9" />
<line x1="141.30" y1="256.20" x2="143.90" y2="256.20" stroke="#2a2a2a" stroke-width="0.9" />
<circle cx="39.40" cy="299.00" r="4.30" fill="#bba4d8" stroke="#6e4e98" stroke-width="0.8"/>
<circle cx="52.30" cy="297.00" r="4.30" fill="#bba4d8" stroke="#6e4e98" stroke-width="0.8"/>
<circle cx="69.50" cy="296.90" r="4.30" fill="#bba4d8" stroke="#6e4e98" stroke-width="0.8"/>
<circle cx="82.40" cy="296.00" r="4.30" fill="#bba4d8" stroke="#6e4e98" stroke-width="0.8"/>
<circle cx="99.60" cy="295.40" r="4.30" fill="#bba4d8" stroke="#6e4e98" stroke-width="0.8"/>
<circle cx="112.50" cy="288.60" r="4.30" fill="#bba4d8" stroke="#6e4e98" stroke-width="0.8"/>
<circle cx="129.70" cy="288.00" r="4.30" fill="#bba4d8" stroke="#6e4e98" stroke-width="0.8"/>
<circle cx="142.60" cy="285.10" r="4.30" fill="#bba4d8" stroke="#6e4e98" stroke-width="0.8"/>
<circle cx="159.80" cy="287.00" r="4.30" fill="#bba4d8" stroke="#6e4e98" stroke-width="0.8"/>
<circle cx="172.70" cy="286.20" r="4.30" fill="#bba4d8" stroke="#6e4e98" stroke-width="0.8"/>
<circle cx="189.90" cy="284.20" r="4.30" fill="#bba4d8" stroke="#6e4e98" stroke-width="0.8"/>
<circle cx="202.80" cy="280.60" r="4.30" fill="#bba4d8" stroke="#6e4e98" stroke-width="0.8"/>
<circle cx="220.00" cy="277.00" r="4.30" fill="#bba4d8" stroke="#6e4e98" stroke-width="0.8"/>
<circle cx="232.90" cy="275.20" r="4.30" fill="#bba4d8" stroke="#6e4e98" stroke-width="0.8"/>
<circle cx="250.10" cy="272.60" r="4.30" fill="#bba4d8" stroke="#6e4e98" stroke-width="0.8"/>
<circle cx="263.00" cy="267.50" r="4.30" fill="#bba4d8" stroke="#6e4e98" stroke-width="0.8"/>
<circle cx="280.20" cy="266.30" r="4.30" fill="#bba4d8" stroke="#6e4e98" stroke-width="0.8"/>
<circle cx="293.10" cy="260.10" r="4.30" fill="#bba4d8" stroke="#6e4e98" stroke-width="0.8"/>
<circle cx="310.30" cy="252.90" r="4.30" fill="#bba4d8" stroke="#6e4e98" stroke-width="0.8"/>
<path d="M39.40,294.30L44.10,299.00L39.40,303.70L34.70,299.00Z" fill="#5a5a5a" stroke="#222" stroke-width="0.8"/>
<path d="M52.30,293.80L57.00,298.50L52.30,303.20L47.60,298.50Z" fill="#5a5a5a" stroke="#222" stroke-width="0.8"/>
<path d="M69.50,297.80L74.20,302.50L69.50,307.20L64.80,302.50Z" fill="#5a5a5a" stroke="#222" stroke-width="0.8"/>
<path d="M82.40,305.70L87.10,310.40L82.40,315.10L77.70,310.40Z" fill="#5a5a5a" stroke="#222" stroke-width="0.8"/>
<path d="M99.60,307.90L104.30,312.60L99.60,317.30L94.90,312.60Z" fill="#5a5a5a" stroke="#222" stroke-width="0.8"/>
<path d="M112.50,307.70L117.20,312.40L112.50,317.10L107.80,312.40Z" fill="#5a5a5a" stroke="#222" stroke-width="0.8"/>
<path d="M129.70,304.60L134.40,309.30L129.70,314.00L125.00,309.30Z" fill="#5a5a5a" stroke="#222" stroke-width="0.8"/>
<path d="M142.60,301.50L147.30,306.20L142.60,310.90L137.90,306.20Z" fill="#5a5a5a" stroke="#222" stroke-width="0.8"/>
<path d="M159.80,304.60L164.50,309.30L159.80,314.00L155.10,309.30Z" fill="#5a5a5a" stroke="#222" stroke-width="0.8"/>
<path d="M172.70,310.40L177.40,315.10L172.70,319.80L168.00,315.10Z" fill="#5a5a5a" stroke="#222" stroke-width="0.8"/>
<path d="M189.90,317.00L194.60,321.70L189.90,326.40L185.20,321.70Z" fill="#5a5a5a" stroke="#222" stroke-width="0.8"/>
<path d="M202.80,316.30L207.50,321.00L202.80,325.70L198.10,321.00Z" fill="#5a5a5a" stroke="#222" stroke-width="0.8"/>
<path d="M220.00,315.50L224.70,320.20L220.00,324.90L215.30,320.20Z" fill="#5a5a5a" stroke="#222" stroke-width="0.8"/>
<path d="M232.90,315.50L237.60,320.20L232.90,324.90L228.20,320.20Z" fill="#5a5a5a" stroke="#222" stroke-width="0.8"/>
<path d="M250.10,317.60L254.80,322.30L250.10,327.00L245.40,322.30Z" fill="#5a5a5a" stroke="#222" stroke-width="0.8"/>
<path d="M263.00,322.50L267.70,327.20L263.00,331.90L258.30,327.20Z" fill="#5a5a5a" stroke="#222" stroke-width="0.8"/>
<path d="M280.20,323.50L284.90,328.20L280.20,332.90L275.50,328.20Z" fill="#5a5a5a" stroke="#222" stroke-width="0.8"/>
<path d="M293.10,323.50L297.80,328.20L293.10,332.90L288.40,328.20Z" fill="#5a5a5a" stroke="#222" stroke-width="0.8"/>
<path d="M310.30,324.30L315.00,329.00L310.30,333.70L305.60,329.00Z" fill="#5a5a5a" stroke="#222" stroke-width="0.8"/>
<circle cx="39.40" cy="299.00" r="4.30" fill="#6a2eaa" stroke="#3c1874" stroke-width="0.8"/>
<circle cx="52.30" cy="292.00" r="4.30" fill="#6a2eaa" stroke="#3c1874" stroke-width="0.8"/>
<circle cx="69.50" cy="285.10" r="4.30" fill="#6a2eaa" stroke="#3c1874" stroke-width="0.8"/>
<circle cx="82.40" cy="279.90" r="4.30" fill="#6a2eaa" stroke="#3c1874" stroke-width="0.8"/>
<circle cx="99.60" cy="267.80" r="4.30" fill="#6a2eaa" stroke="#3c1874" stroke-width="0.8"/>
<circle cx="112.50" cy="260.70" r="4.30" fill="#6a2eaa" stroke="#3c1874" stroke-width="0.8"/>
<circle cx="129.70" cy="247.80" r="4.30" fill="#6a2eaa" stroke="#3c1874" stroke-width="0.8"/>
<circle cx="142.60" cy="238.90" r="4.30" fill="#6a2eaa" stroke="#3c1874" stroke-width="0.8"/>
<path d="M39.40,293.90L44.10,298.60L39.40,303.30L34.70,298.60Z" fill="#000" stroke="#000" stroke-width="0.8"/>
<path d="M52.30,285.70L57.00,290.40L52.30,295.10L47.60,290.40Z" fill="#000" stroke="#000" stroke-width="0.8"/>
<path d="M69.50,276.20L74.20,280.90L69.50,285.60L64.80,280.90Z" fill="#000" stroke="#000" stroke-width="0.8"/>
<path d="M82.40,267.30L87.10,272.00L82.40,276.70L77.70,272.00Z" fill="#000" stroke="#000" stroke-width="0.8"/>
<path d="M99.60,262.00L104.30,266.70L99.60,271.40L94.90,266.70Z" fill="#000" stroke="#000" stroke-width="0.8"/>
<path d="M112.50,252.90L117.20,257.60L112.50,262.30L107.80,257.60Z" fill="#000" stroke="#000" stroke-width="0.8"/>
<path d="M129.70,246.30L134.40,251.00L129.70,255.70L125.00,251.00Z" fill="#000" stroke="#000" stroke-width="0.8"/>
<path d="M142.60,241.60L147.30,246.30L142.60,251.00L137.90,246.30Z" fill="#000" stroke="#000" stroke-width="0.8"/>
<line x1="110.00" y1="199.40" x2="127.00" y2="199.40" stroke="#000" stroke-width="1.8" />
<path d="M117.70,194.60L122.50,199.40L117.70,204.20L112.90,199.40Z" fill="#000" stroke="#000" stroke-width="0.8"/>
<text x="129.50" y="202.10" font-size="8.8" text-anchor="start" font-weight="bold" fill="#000" stroke="#000" stroke-width="0.2" textLength="59.2" lengthAdjust="spacingAndGlyphs"  style="">BT474 Control</text>
<line x1="110.00" y1="214.30" x2="127.00" y2="214.30" stroke="#222" stroke-width="1.8" />
<path d="M117.70,209.50L122.50,214.30L117.70,219.10L112.90,214.30Z" fill="#5a5a5a" stroke="#222" stroke-width="0.8"/>
<text x="129.50" y="217.00" font-size="8.8" text-anchor="start" font-weight="bold" fill="#000" stroke="#000" stroke-width="0.2" textLength="52.6" lengthAdjust="spacingAndGlyphs"  style="">BT474 T-DM1</text>
<line x1="211.30" y1="199.40" x2="228.30" y2="199.40" stroke="#55248c" stroke-width="1.8" />
<circle cx="219.00" cy="199.40" r="3.70" fill="#6a2eaa" stroke="#3c1874" stroke-width="0.8"/>
<text x="230.80" y="202.10" font-size="8.8" text-anchor="start" font-weight="bold" fill="#000" stroke="#000" stroke-width="0.2" textLength="49.3" lengthAdjust="spacingAndGlyphs"  style="">C#6 Control</text>
<line x1="211.30" y1="214.30" x2="228.30" y2="214.30" stroke="#8a6ab4" stroke-width="1.8" />
<circle cx="219.00" cy="214.30" r="3.70" fill="#bba4d8" stroke="#6e4e98" stroke-width="0.8"/>
<text x="230.80" y="217.00" font-size="8.8" text-anchor="start" font-weight="bold" fill="#000" stroke="#000" stroke-width="0.2" textLength="43.0" lengthAdjust="spacingAndGlyphs"  style="">C#6 T-DM1</text>
<line x1="323.40" y1="227.00" x2="323.40" y2="293.90" stroke="#000" stroke-width="1.1" />
<path d="M323.40,224.00L325.40,228.20L321.40,228.20Z" fill="#000"/>
<path d="M323.40,296.90L325.40,292.70L321.40,292.70Z" fill="#000"/>
<line x1="323.40" y1="303.80" x2="323.40" y2="326.40" stroke="#000" stroke-width="1.1" />
<path d="M323.40,300.80L325.40,305.00L321.40,305.00Z" fill="#000"/>
<path d="M323.40,329.40L325.40,325.20L321.40,325.20Z" fill="#000"/>
<text transform="translate(329.40,261.20) rotate(90)" font-size="8" font-style="italic" text-anchor="middle" font-weight="normal" stroke="#000" stroke-width="0.4" textLength="42.2" lengthAdjust="spacingAndGlyphs">Progression</text>
<text transform="translate(329.40,316.00) rotate(90)" font-size="8" font-style="italic" text-anchor="middle" font-weight="normal" stroke="#000" stroke-width="0.4" textLength="38.6" lengthAdjust="spacingAndGlyphs">Regression</text>
<text x="408.40" y="190.30" font-size="8.5" text-anchor="middle" font-weight="bold" fill="#000" stroke="#000" stroke-width="0.2"  style="">C#1</text>
<line x1="397.40" y1="193.10" x2="419.40" y2="193.10" stroke="#000" stroke-width="1.1" />
<text x="441.00" y="190.30" font-size="8.5" text-anchor="middle" font-weight="bold" fill="#000" stroke="#000" stroke-width="0.2"  style="">C#3</text>
<line x1="430.00" y1="193.10" x2="452.00" y2="193.10" stroke="#000" stroke-width="1.1" />
<text x="473.20" y="190.30" font-size="8.5" text-anchor="middle" font-weight="bold" fill="#000" stroke="#000" stroke-width="0.2"  style="">C#6</text>
<line x1="462.20" y1="193.10" x2="484.20" y2="193.10" stroke="#000" stroke-width="1.1" />
<line x1="399.10" y1="199.40" x2="401.90" y2="199.40" stroke="#000" stroke-width="1.1" />
<line x1="414.10" y1="199.50" x2="419.10" y2="199.50" stroke="#000" stroke-width="1.1" />
<line x1="416.60" y1="197.10" x2="416.60" y2="201.90" stroke="#000" stroke-width="1.1" />
<line x1="431.50" y1="199.40" x2="434.30" y2="199.40" stroke="#000" stroke-width="1.1" />
<line x1="445.70" y1="199.50" x2="450.70" y2="199.50" stroke="#000" stroke-width="1.1" />
<line x1="448.20" y1="197.10" x2="448.20" y2="201.90" stroke="#000" stroke-width="1.1" />
<line x1="463.90" y1="199.40" x2="466.70" y2="199.40" stroke="#000" stroke-width="1.1" />
<line x1="478.50" y1="199.50" x2="483.50" y2="199.50" stroke="#000" stroke-width="1.1" />
<line x1="481.00" y1="197.10" x2="481.00" y2="201.90" stroke="#000" stroke-width="1.1" />
<text x="491.30" y="201.90" font-size="8.4" text-anchor="start" font-weight="bold" fill="#000" stroke="#000" stroke-width="0.2"  style="">T-DM1</text>
<text x="517.40" y="198.60" font-size="6" text-anchor="start" font-weight="bold" fill="#000" stroke="#000" stroke-width="0.2"  style="">*</text>
<defs><filter id="bl" x="-30%" y="-80%" width="160%" height="260%"><feGaussianBlur stdDeviation="0.55"/></filter><filter id="bl2" x="-30%" y="-80%" width="160%" height="260%"><feGaussianBlur stdDeviation="0.9"/></filter></defs>
<rect x="392.3" y="203.9" width="99.6" height="23.6" fill="#dfdfdf" stroke="#555" stroke-width="1.3"/>
<rect x="392.3" y="229.9" width="99.6" height="24.0" fill="#e9e9e9" stroke="#555" stroke-width="1.3"/>
<rect x="410.3" y="214.5" width="12.0" height="4.0" rx="2" fill="#0d0d0d" filter="url(#bl)"/>
<rect x="442.4" y="215.2" width="11.2" height="3.6" rx="1.8" fill="#b8b8b8" filter="url(#bl2)"/>
<rect x="475.6" y="213.6" width="12.8" height="3.8" rx="1.9" fill="#8a8a8a" filter="url(#bl2)"/>
<rect x="480.0" y="214.0" width="5.0" height="2.6" rx="1.3" fill="#555" filter="url(#bl)"/>
<rect x="394.10" y="240.0" width="14.50" height="4.4" rx="2.2" fill="#0d0d0d" filter="url(#bl)"/>
<rect x="410.10" y="240.0" width="13.70" height="4.4" rx="2.2" fill="#0d0d0d" filter="url(#bl)"/>
<rect x="426.30" y="240.0" width="14.50" height="4.4" rx="2.2" fill="#0d0d0d" filter="url(#bl)"/>
<rect x="442.10" y="240.0" width="15.40" height="4.4" rx="2.2" fill="#0d0d0d" filter="url(#bl)"/>
<rect x="459.00" y="240.0" width="14.30" height="4.4" rx="2.2" fill="#0d0d0d" filter="url(#bl)"/>
<rect x="474.40" y="240.0" width="15.10" height="4.4" rx="2.2" fill="#0d0d0d" filter="url(#bl)"/>
<text x="342.50" y="221.00" font-size="8.6" text-anchor="start" font-weight="bold" fill="#000" stroke="#000" stroke-width="0.2"  style="">h-Ig-light</text>
<line x1="383.80" y1="217.40" x2="389.60" y2="217.40" stroke="#000" stroke-width="1.0" />
<text x="379.00" y="245.50" font-size="8.6" text-anchor="end" font-weight="bold" fill="#000" stroke="#000" stroke-width="0.2"  style="">GAPDH</text>
<line x1="383.80" y1="242.00" x2="389.60" y2="242.00" stroke="#000" stroke-width="1.0" />
<text x="396.50" y="264.50" font-size="8.4" text-anchor="start" font-weight="bold" fill="#000" stroke="#000" stroke-width="0.2" textLength="95.1" lengthAdjust="spacingAndGlyphs"  style="">* 3 mg/kg i.v. (3 weeks)</text>
<line x1="391.90" y1="271.30" x2="391.90" y2="359.30" stroke="#000" stroke-width="1.0" />
<line x1="391.40" y1="358.80" x2="505.00" y2="358.80" stroke="#222" stroke-width="1.1" />
<line x1="388.30" y1="358.80" x2="391.90" y2="358.80" stroke="#000" stroke-width="0.9" />
<text x="386.50" y="361.70" font-size="8.4" text-anchor="end" font-weight="bold" fill="#000" stroke="#000" stroke-width="0.2"  style="">0</text>
<line x1="388.30" y1="344.22" x2="391.90" y2="344.22" stroke="#000" stroke-width="0.9" />
<text x="386.50" y="347.12" font-size="8.4" text-anchor="end" font-weight="bold" fill="#000" stroke="#000" stroke-width="0.2"  style="">5</text>
<line x1="388.30" y1="329.63" x2="391.90" y2="329.63" stroke="#000" stroke-width="0.9" />
<text x="386.50" y="332.53" font-size="8.4" text-anchor="end" font-weight="bold" fill="#000" stroke="#000" stroke-width="0.2"  style="">10</text>
<line x1="388.30" y1="315.05" x2="391.90" y2="315.05" stroke="#000" stroke-width="0.9" />
<text x="386.50" y="317.95" font-size="8.4" text-anchor="end" font-weight="bold" fill="#000" stroke="#000" stroke-width="0.2"  style="">15</text>
<line x1="388.30" y1="300.47" x2="391.90" y2="300.47" stroke="#000" stroke-width="0.9" />
<text x="386.50" y="303.37" font-size="8.4" text-anchor="end" font-weight="bold" fill="#000" stroke="#000" stroke-width="0.2"  style="">20</text>
<line x1="388.30" y1="285.88" x2="391.90" y2="285.88" stroke="#000" stroke-width="0.9" />
<text x="386.50" y="288.78" font-size="8.4" text-anchor="end" font-weight="bold" fill="#000" stroke="#000" stroke-width="0.2"  style="">25</text>
<line x1="388.30" y1="271.30" x2="391.90" y2="271.30" stroke="#000" stroke-width="0.9" />
<text x="386.50" y="274.20" font-size="8.4" text-anchor="end" font-weight="bold" fill="#000" stroke="#000" stroke-width="0.2"  style="">30</text>
<text transform="translate(361.0,314.8) rotate(-90)" font-size="8.5" font-weight="bold" text-anchor="middle" stroke="#000" stroke-width="0.2" textLength="92.4" lengthAdjust="spacingAndGlyphs">h-Ig-light Protein level</text>
<text transform="translate(372.2,314.5) rotate(-90)" font-size="8.5" font-weight="bold" text-anchor="middle" stroke="#000" stroke-width="0.2" textLength="37.0" lengthAdjust="spacingAndGlyphs">(a.u./10<tspan font-size="5.5" dy="-3">6</tspan><tspan dy="3">)</tspan></text>
<rect x="399.70" y="356.18" width="12.50" height="2.62" fill="#2d5a72" stroke="#1e3a48" stroke-width="1.05"/>
<line x1="418.00" y1="279.47" x2="418.00" y2="283.26" stroke="#444" stroke-width="1.1" />
<line x1="416.20" y1="279.47" x2="419.80" y2="279.47" stroke="#444" stroke-width="1.1" />
<rect x="412.20" y="283.26" width="11.60" height="75.54" fill="#a3d0e4" stroke="#27495a" stroke-width="1.05"/>
<rect x="436.00" y="358.45" width="11.90" height="0.35" fill="#333" stroke="#333" stroke-width="1.05"/>
<line x1="454.10" y1="330.80" x2="454.10" y2="342.18" stroke="#444" stroke-width="1.1" />
<line x1="452.30" y1="330.80" x2="455.90" y2="330.80" stroke="#444" stroke-width="1.1" />
<rect x="447.90" y="342.18" width="12.40" height="16.62" fill="#8ddc3c" stroke="#2c4a14" stroke-width="1.05"/>
<rect x="472.10" y="358.45" width="11.40" height="0.35" fill="#222" stroke="#222" stroke-width="1.05"/>
<line x1="489.90" y1="324.68" x2="489.90" y2="335.47" stroke="#444" stroke-width="1.1" />
<line x1="488.10" y1="324.68" x2="491.70" y2="324.68" stroke="#444" stroke-width="1.1" />
<rect x="483.50" y="335.47" width="12.80" height="23.33" fill="#c4b1da" stroke="#45365a" stroke-width="1.05"/>
<text x="405.50" y="368.90" font-size="8.4" text-anchor="middle" font-weight="bold" fill="#000" stroke="#000" stroke-width="0.2"  style="">C</text>
<text x="418.20" y="368.90" font-size="8.4" text-anchor="middle" font-weight="bold" fill="#000" stroke="#000" stroke-width="0.2"  style="">T</text>
<line x1="399.50" y1="370.30" x2="423.80" y2="370.30" stroke="#000" stroke-width="0.9" />
<text x="411.60" y="378.60" font-size="8.4" text-anchor="middle" font-weight="bold" fill="#000" stroke="#000" stroke-width="0.2"  style="">C#1</text>
<text x="441.30" y="368.90" font-size="8.4" text-anchor="middle" font-weight="bold" fill="#000" stroke="#000" stroke-width="0.2"  style="">C</text>
<text x="454.70" y="368.90" font-size="8.4" text-anchor="middle" font-weight="bold" fill="#000" stroke="#000" stroke-width="0.2"  style="">T</text>
<line x1="436.30" y1="370.30" x2="460.50" y2="370.30" stroke="#000" stroke-width="0.9" />
<text x="447.10" y="378.60" font-size="8.4" text-anchor="middle" font-weight="bold" fill="#000" stroke="#000" stroke-width="0.2"  style="">C#3</text>
<text x="478.70" y="368.90" font-size="8.4" text-anchor="middle" font-weight="bold" fill="#000" stroke="#000" stroke-width="0.2"  style="">C</text>
<text x="491.20" y="368.90" font-size="8.4" text-anchor="middle" font-weight="bold" fill="#000" stroke="#000" stroke-width="0.2"  style="">T</text>
<line x1="472.60" y1="370.30" x2="496.00" y2="370.30" stroke="#000" stroke-width="0.9" />
<text x="483.00" y="378.60" font-size="8.4" text-anchor="middle" font-weight="bold" fill="#000" stroke="#000" stroke-width="0.2"  style="">C#6</text>
</g></svg>
</body></html>
